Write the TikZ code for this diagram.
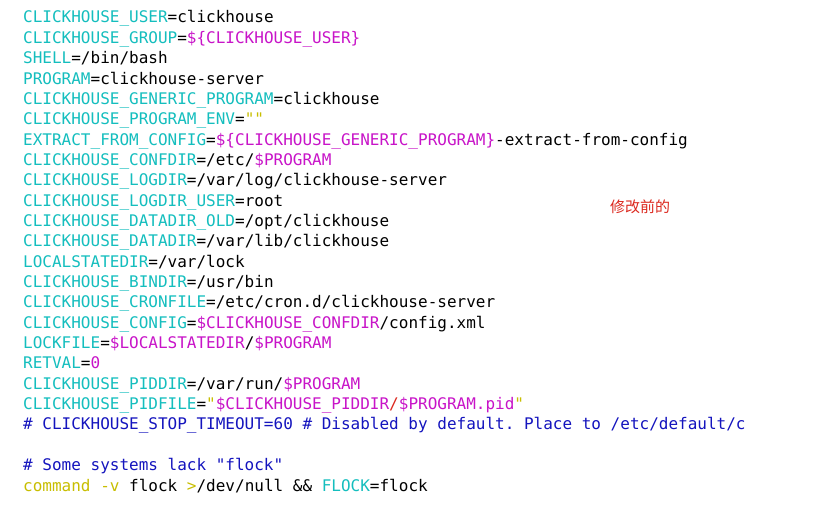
\documentclass[tikz,border=0pt]{standalone}
\usepackage{fontspec}
\setmonofont{DejaVu Sans Mono}
\newfontfamily\cjk{Noto Sans CJK SC}
\definecolor{vcy}{RGB}{20,190,190}
\definecolor{vmg}{RGB}{200,20,200}
\definecolor{vye}{RGB}{200,190,0}
\definecolor{vbl}{RGB}{20,20,190}
\definecolor{vrd}{RGB}{220,40,30}
\newcommand{\Cy}[1]{\textcolor{vcy}{#1}}
\newcommand{\Mg}[1]{\textcolor{vmg}{#1}}
\newcommand{\Ye}[1]{\textcolor{vye}{#1}}
\newcommand{\Bl}[1]{\textcolor{vbl}{#1}}
\newcommand{\Rd}[1]{\textcolor{vrd}{#1}}
\begin{document}
\begin{tikzpicture}[x=1pt,y=1pt,
  ln/.style={anchor=base west,inner sep=0pt,font=\ttfamily\fontsize{16}{16}\selectfont,text=black}]
\useasboundingbox[fill=white] (0,0) rectangle (836,513);
\def\L#1#2{\node[ln] (l#1) at (23,{490-20.35*(#1-1)}) {\strut #2};}
\L{1}{\Cy{CLICKHOUSE\_USER}=clickhouse}
\L{2}{\Cy{CLICKHOUSE\_GROUP}=\Mg{\$\{CLICKHOUSE\_USER\}}}
\L{3}{\Cy{SHELL}=/bin/bash}
\L{4}{\Cy{PROGRAM}=clickhouse-server}
\L{5}{\Cy{CLICKHOUSE\_GENERIC\_PROGRAM}=clickhouse}
\L{6}{\Cy{CLICKHOUSE\_PROGRAM\_ENV}=\Ye{""}}
\L{7}{\Cy{EXTRACT\_FROM\_CONFIG}=\Mg{\$\{CLICKHOUSE\_GENERIC\_PROGRAM\}}-extract-from-config}
\L{8}{\Cy{CLICKHOUSE\_CONFDIR}=/etc/\Mg{\$PROGRAM}}
\L{9}{\Cy{CLICKHOUSE\_LOGDIR}=/var/log/clickhouse-server}
\L{10}{\Cy{CLICKHOUSE\_LOGDIR\_USER}=root}
\L{11}{\Cy{CLICKHOUSE\_DATADIR\_OLD}=/opt/clickhouse}
\L{12}{\Cy{CLICKHOUSE\_DATADIR}=/var/lib/clickhouse}
\L{13}{\Cy{LOCALSTATEDIR}=/var/lock}
\L{14}{\Cy{CLICKHOUSE\_BINDIR}=/usr/bin}
\L{15}{\Cy{CLICKHOUSE\_CRONFILE}=/etc/cron.d/clickhouse-server}
\L{16}{\Cy{CLICKHOUSE\_CONFIG}=\Mg{\$CLICKHOUSE\_CONFDIR}/config.xml}
\L{17}{\Cy{LOCKFILE}=\Mg{\$LOCALSTATEDIR}/\Mg{\$PROGRAM}}
\L{18}{\Cy{RETVAL}=\Mg{0}}
\L{19}{\Cy{CLICKHOUSE\_PIDDIR}=/var/run/\Mg{\$PROGRAM}}
\L{20}{\Cy{CLICKHOUSE\_PIDFILE}=\Ye{"}\Mg{\$CLICKHOUSE\_PIDDIR}\Rd{/}\Mg{\$PROGRAM.pid}\Ye{"}}
\L{21}{\Bl{\# CLICKHOUSE\_STOP\_TIMEOUT=60 \# Disabled by default. Place to /etc/default/c}}
\L{23}{\Bl{\# Some systems lack "flock"}}
\L{24}{\Ye{command} \Ye{-v} flock \Ye{>}/dev/null \&\& \Cy{FLOCK}=flock}
\fill[white] (752,0) rectangle (836,513);
\node[anchor=base west,inner sep=0pt,text=vrd,font=\cjk\fontsize{15}{15}\selectfont] (note) at (610,300) {修改前的};
\end{tikzpicture}
\end{document}
